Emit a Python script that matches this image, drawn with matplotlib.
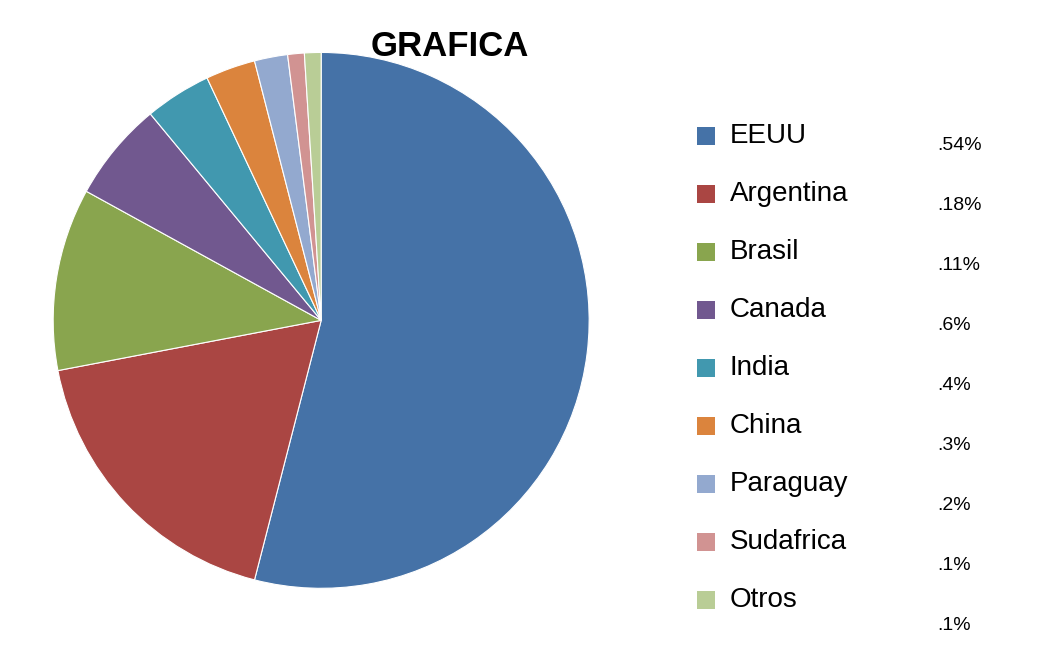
import matplotlib.pyplot as plt
from matplotlib.patches import Rectangle

paises = ['EEUU', 'Argentina', 'Brasil', 'Canada', 'India', 'China', 'Paraguay', 'Sudafrica', 'Otros']
valores = [54, 18, 11, 6, 4, 3, 2, 1, 1]
etiquetas = ['.54%', '.18%', '.11%', '.6%', '.4%', '.3%', '.2%', '.1%', '.1%']
colores = ['#4572A7', '#AA4643', '#89A54E', '#71588F', '#4198AF',
           '#DB843D', '#93A9CF', '#D19392', '#B9CD96']

fig = plt.figure(figsize=(10.53, 6.64), dpi=100)
ax = fig.add_axes([0.0505, 0.114, 0.509, 0.807])
ax.pie(valores, colors=colores, startangle=90, counterclock=False,
       wedgeprops=dict(edgecolor='white', linewidth=0.8))
ax.set_aspect('auto')
ax.set_xlim(-1, 1)
ax.set_ylim(-1, 1)

fig.text(0.427, 0.93, 'GRAFICA', ha='center', va='center',
         fontsize=25, fontweight='bold', family='Liberation Sans', zorder=5)

# legend drawn by hand
for i, (p, c, e) in enumerate(zip(paises, colores, etiquetas)):
    y = 1 - (136 + 58 * i) / 664
    fig.patches.append(Rectangle((697 / 1053, y - 9 / 664), 18 / 1053, 18 / 664,
                                 transform=fig.transFigure, facecolor=c))
    fig.text(730 / 1053, y, p, va='center', fontsize=20, family='Liberation Sans')
    fig.text(937 / 1053, 1 - (145 + 60 * i) / 664, e, va='center', fontsize=14,
             family='Liberation Sans')

fig.savefig('out.png', dpi=100)
